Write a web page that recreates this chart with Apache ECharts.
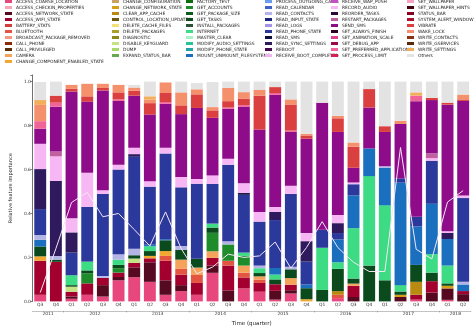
<!DOCTYPE html>
<html><head><meta charset="utf-8">
<script src="https://cdn.jsdelivr.net/npm/echarts@6/dist/echarts.min.js"></script>
<style>html,body{margin:0;padding:0;background:#fff}#c{width:474px;height:332px}</style>
</head><body><div id="c"></div>
<script>
// ---- categories ----
const quarters = ['Q3','Q4','Q1','Q2','Q3','Q4','Q1','Q2','Q3','Q4','Q1','Q2','Q3','Q4','Q1','Q2','Q3','Q4','Q1','Q2','Q3','Q4','Q1','Q2','Q3','Q4','Q1','Q2'];
const yearOfBar = ['2011','2011','2012','2012','2012','2012','2013','2013','2013','2013','2014','2014','2014','2014','2015','2015','2015','2015','2016','2016','2016','2016','2017','2017','2017','2017','2018','2018'];

// ---- legend / series names (stack order bottom -> top) ----
const permNames = ['ACCESS_COARSE_LOCATION','ACCESS_CHECKIN_PROPERTIES','ACCESS_NETWORK_STATE','ACCESS_WIFI_STATE','BATTERY_STATS','BLUETOOTH','BROADCAST_PACKAGE_REMOVED','CALL_PHONE','CALL_PRIVILEGED','CAMERA','CHANGE_COMPONENT_ENABLED_STATE',
'CHANGE_CONFIGURATION','CHANGE_NETWORK_STATE','CLEAR_APP_CACHE','CONTROL_LOCATION_UPDATES','DELETE_CACHE_FILES','DELETE_PACKAGES','DIAGNOSTIC','DISABLE_KEYGUARD','DUMP','EXPAND_STATUS_BAR',
'FACTORY_TEST','GET_ACCOUNTS','GET_PACKAGE_SIZE','GET_TASKS','INSTALL_PACKAGES','INTERNET','MASTER_CLEAR','MODIFY_AUDIO_SETTINGS','MODIFY_PHONE_STATE','MOUNT_UNMOUNT_FILESYSTEMS',
'PROCESS_OUTGOING_CALLS','READ_CALENDAR','READ_CONTACTS','READ_INPUT_STATE','READ_LOGS','READ_PHONE_STATE','READ_SMS','READ_SYNC_SETTINGS','REBOOT','RECEIVE_BOOT_COMPLETED',
'RECEIVE_WAP_PUSH','RECORD_AUDIO','REORDER_TASKS','RESTART_PACKAGES','SEND_SMS','SET_ALWAYS_FINISH','SET_ANIMATION_SCALE','SET_DEBUG_APP','SET_PREFERRED_APPLICATIONS','SET_PROCESS_LIMIT',
'SET_WALLPAPER','SET_WALLPAPER_HINTS','STATUS_BAR','SYSTEM_ALERT_WINDOW','VIBRATE','WAKE_LOCK','WRITE_CONTACTS','WRITE_GSERVICES','WRITE_SETTINGS','Others'];

const permColors = ['#e8477d','#f4a6b7','#560a22','#a3002f','#d43d3d','#e35540','#f49a82','#8c2a05','#5c2c06','#f5a25a','#f0a830',
'#c9a263','#d4a017','#b98a12','#6e5a0a','#f2e07a','#a8a22a','#8a8a1a','#c5e384','#a6d96a','#6aa84f',
'#0b6e0b','#1e8c2a','#0d5c1e','#0a4a1c','#2b5235','#3ddc84','#a8f0c8','#26c29a','#1fa3a3','#1a6fbf',
'#6a9cf0','#4062c8','#b4b4e6','#1a237e','#a594e6','#2b399c','#0f0f3c','#2e1a5c','#46064f','#f0b4f0',
'#c44fc4','#f7b7f4','#2a0a3a','#c0609e','#8e0b8a','#2c0420','#e0408a','#9a0a4a','#f0649a','#d42050',
'#f8a0c0','#42000f','#8a0020','#a8122e','#db4040','#f4916c','#8c3212','#5c2a06','#f2ae5a','#e3e3e3'];

// ---- series values (one per bar) ----
const ACCESS_COARSE_LOCATION = [.03,0,.012,.03,.022,.096,.11,.089,.03,.047,.03,.13,0,.059,.044,.008,.036,0,0,.015,0,0,0,0,.008,0,.007,0];
const ACCESS_NETWORK_STATE = [0,0,.01,0,.052,.015,.045,.089,.066,.027,0,.033,.05,0,0,.04,.015,0,0,0,.02,0,0,.02,0,.04,.052,.033];
const ACCESS_WIFI_STATE = [.155,.18,.022,.052,.033,.02,.02,.018,.089,.048,.054,.035,.113,.05,.04,.03,.025,0,0,0,.051,0,0,0,.022,.052,0,.014];
const BLUETOOTH = [0,0,0,0,0,0,0,0,.022,.026,.036,0,.022,.022,.015,0,0,0,0,.015,0,0,0,0,0,0,0,0];
const CAMERA = [0,0,0,0,0,0,0,0,0,.042,.034,.03,0,.032,.015,0,.03,0,0,0,.01,0,0,0,0,0,0,0];
const CHANGE_COMPONENT_ENABLED_STATE = [.02,0,0,0,0,0,0,.011,.022,0,0,0,0,0,0,0,0,.01,0,0,0,0,0,0,0,0,0,0];
const CHANGE_NETWORK_STATE = [0,0,0,0,0,0,0,0,0,0,0,0,0,0,0,0,0,0,0,0,0,0,0,.01,0,0,.012,0];
const CLEAR_APP_CACHE = [0,0,0,0,0,0,0,0,0,0,0,0,0,0,0,0,0,0,0,.017,0,0,0,0,.059,0,0,0];
const DISABLE_KEYGUARD = [0,0,.023,0,0,0,.02,0,0,0,0,0,0,0,0,0,0,0,0,0,0,0,0,0,0,0,0,0];
const GET_ACCOUNTS = [0,0,0,.046,0,.02,0,0,0,0,0,.084,.074,.044,0,0,0,0,0,0,0,0,0,0,0,0,0,0];
const GET_TASKS = [.045,.01,.007,.013,0,.015,.015,.022,.049,.044,.04,.024,0,0,.015,.022,.04,.05,.052,.101,.023,.163,.096,.015,.077,.039,.011,0];
const INTERNET = [0,0,.045,.04,0,.024,0,.022,0,0,0,.018,0,.015,.022,.022,0,0,.192,.03,.229,.407,.341,.029,0,.084,.081,0];
const MOUNT_UNMOUNT_FILESYSTEMS = [.03,0,0,0,0,0,0,.007,.005,0,0,0,0,0,0,.03,0,.017,0,.104,.149,.126,.171,.466,.175,.229,.121,.03];
const READ_CONTACTS = [.022,.017,0,0,.008,.025,.03,0,0,.018,0,0,.015,0,.012,0,.012,0,0,0,0,0,.007,0,0,0,0,.012];
const READ_PHONE_STATE = [.118,0,.103,.249,.374,.385,.418,.264,.39,.267,.341,.18,.348,.263,.2,.218,.331,.104,.082,.029,.051,0,0,.02,.044,.196,0,.381];
const READ_SMS = [0,0,0,0,0,0,0,0,0,0,0,0,0,.008,0,0,0,0,0,0,0,0,0,0,0,0,0,0];
const READ_SYNC_SETTINGS = [.182,.341,.092,0,0,0,.012,0,0,0,0,0,0,0,0,.037,0,.093,0,.045,0,0,0,0,0,0,.028,0];
const RECORD_AUDIO = [.115,.112,.064,.155,.017,.022,.029,.025,.026,.047,.022,.039,.027,.044,.044,.023,.037,.037,0,.037,.008,0,0,0,0,.012,.007,.012];
const RESTART_PACKAGES = [0,.022,0,0,0,0,0,0,0,0,0,0,0,0,0,0,0,0,0,0,0,0,0,0,0,.022,0,0];
const SEND_SMS = [.069,.204,.577,.324,.454,.29,.237,.303,.2,.286,.323,.262,.228,.348,.375,.51,.245,.429,.578,.378,.067,.186,.156,.247,.526,.242,.576,.43];
const SET_PREFERRED_APPLICATIONS = [.034,.018,0,0,0,.007,0,0,.008,0,0,0,.005,.008,0,.008,.006,0,0,0,0,0,0,0,.025,0,0,0];
const VIBRATE = [0,.032,.012,.024,.011,.032,.023,.052,.041,.04,.062,.034,.029,.03,.154,.027,.119,.015,0,.062,.096,.084,.026,0,0,.01,.009,.007];
const WAKE_LOCK = [.074,0,.018,.057,.019,.034,.014,.016,.048,.059,.023,.015,.06,.029,.027,0,.023,.008,0,.011,.019,0,0,.015,0,0,0,.022];
const WRITE_SETTINGS = [.022,0,0,0,0,0,0,.015,0,0,0,0,0,0,0,0,0,0,0,0,0,0,0,0,.015,0,0,0];
const Others = [.082,.064,0,0,0,0,.012,.067,0,.049,.029,.114,.029,.048,.037,.025,.081,.237,.096,.156,.277,.034,.203,.178,.049,.074,.096,.059];

// overlaid line
const trendLine = [.04,.24,.45,.496,.385,.4,.327,.252,.407,.24,.126,.156,.215,.2,.207,.27,.151,.245,.363,.245,.178,.136,.136,.70,.237,.193,.452,.504];

const valuesByName = {ACCESS_COARSE_LOCATION, ACCESS_NETWORK_STATE, ACCESS_WIFI_STATE, BLUETOOTH, CAMERA, CHANGE_COMPONENT_ENABLED_STATE,
  CHANGE_NETWORK_STATE, CLEAR_APP_CACHE, DISABLE_KEYGUARD, GET_ACCOUNTS, GET_TASKS, INTERNET, MOUNT_UNMOUNT_FILESYSTEMS, READ_CONTACTS,
  READ_PHONE_STATE, READ_SMS, READ_SYNC_SETTINGS, RECORD_AUDIO, RESTART_PACKAGES, SEND_SMS, SET_PREFERRED_APPLICATIONS, VIBRATE, WAKE_LOCK,
  WRITE_SETTINGS, Others};

// year axis on half-bar points: point k sits at k/2 bars from the left edge
const halfLabels = new Array(quarters.length * 2 + 1).fill('');
const yearBounds = new Set();
(function(){
  let start = 0;
  for (let i = 1; i <= yearOfBar.length; i++) {
    if (i === yearOfBar.length || yearOfBar[i] !== yearOfBar[start]) {
      halfLabels[start + i] = yearOfBar[start];
      yearBounds.add(2 * i);
      start = i;
    }
  }
  yearBounds.delete(2 * yearOfBar.length);
})();

const FONT = 'DejaVu Sans';
const chart = echarts.init(document.getElementById('c'), null, {renderer: 'canvas'});

const series = permNames.map((n, i) => ({
  name: n, type: 'bar', stack: 'total', barCategoryGap: '24%',
  itemStyle: {color: permColors[i]},
  data: valuesByName[n] || [],
  emphasis: {disabled: true}
}));
series.push({
  name: 'trend', type: 'line', data: trendLine, symbol: 'none', z: 10,
  lineStyle: {color: '#f4e6f4', width: 1}, itemStyle: {color: '#f4e6f4'}
});

const colLefts = [5, 112, 186, 265, 331, 407];
const colStarts = [0, 11, 21, 31, 41, 51, 61];
const legends = colLefts.map((l, k) => ({
  orient: 'vertical', left: l, top: -1.5, itemGap: 0, itemWidth: 7, itemHeight: 3,
  icon: 'rect', padding: 0, selectedMode: false,
  data: permNames.slice(colStarts[k], colStarts[k + 1]),
  textStyle: {fontFamily: FONT, fontSize: 4.4, lineHeight: 6, color: '#222', padding: [0, 0, 0, -1]}
}));

chart.setOption({
  animation: false,
  textStyle: {fontFamily: FONT},
  legend: legends,
  grid: {left: 16.3, right: 1, top: 75, bottom: 25.3},
  xAxis: [{
    type: 'category', data: quarters,
    axisLine: {show: false}, axisTick: {show: false},
    axisLabel: {fontFamily: FONT, fontSize: 4.4, color: '#333', margin: 1, interval: 0}
  }, {
    type: 'category', data: halfLabels, boundaryGap: false, position: 'bottom', offset: 9.5,
    axisLine: {show: true, lineStyle: {color: '#999', width: 0.6}},
    axisTick: {show: true, length: 1.5, lineStyle: {color: '#888', width: 0.6},
      interval: (idx) => yearBounds.has(idx)},
    splitLine: {show: false},
    axisLabel: {fontFamily: FONT, fontSize: 4.4, color: '#333', margin: 1.2, interval: 0},
    name: 'Time (quarter)', nameLocation: 'middle', nameGap: 8,
    nameTextStyle: {fontFamily: FONT, fontSize: 5.5, color: '#222'}
  }],
  yAxis: {
    type: 'value', min: 0, max: 1.03, interval: 0.2,
    axisLine: {show: true, lineStyle: {color: '#333', width: 0.7}},
    axisTick: {show: true, length: 2, lineStyle: {color: '#333', width: 0.6}},
    splitLine: {show: false},
    axisLabel: {fontFamily: FONT, fontSize: 4.4, color: '#333', margin: 1.5,
      formatter: v => (Math.abs(v * 5 - Math.round(v * 5)) < 1e-6 ? v.toFixed(1) : '')},
    name: 'Relative feature importance', nameLocation: 'middle', nameGap: 12,
    nameTextStyle: {fontFamily: FONT, fontSize: 5, color: '#222'}
  },
  series: series
});
</script></body></html>
